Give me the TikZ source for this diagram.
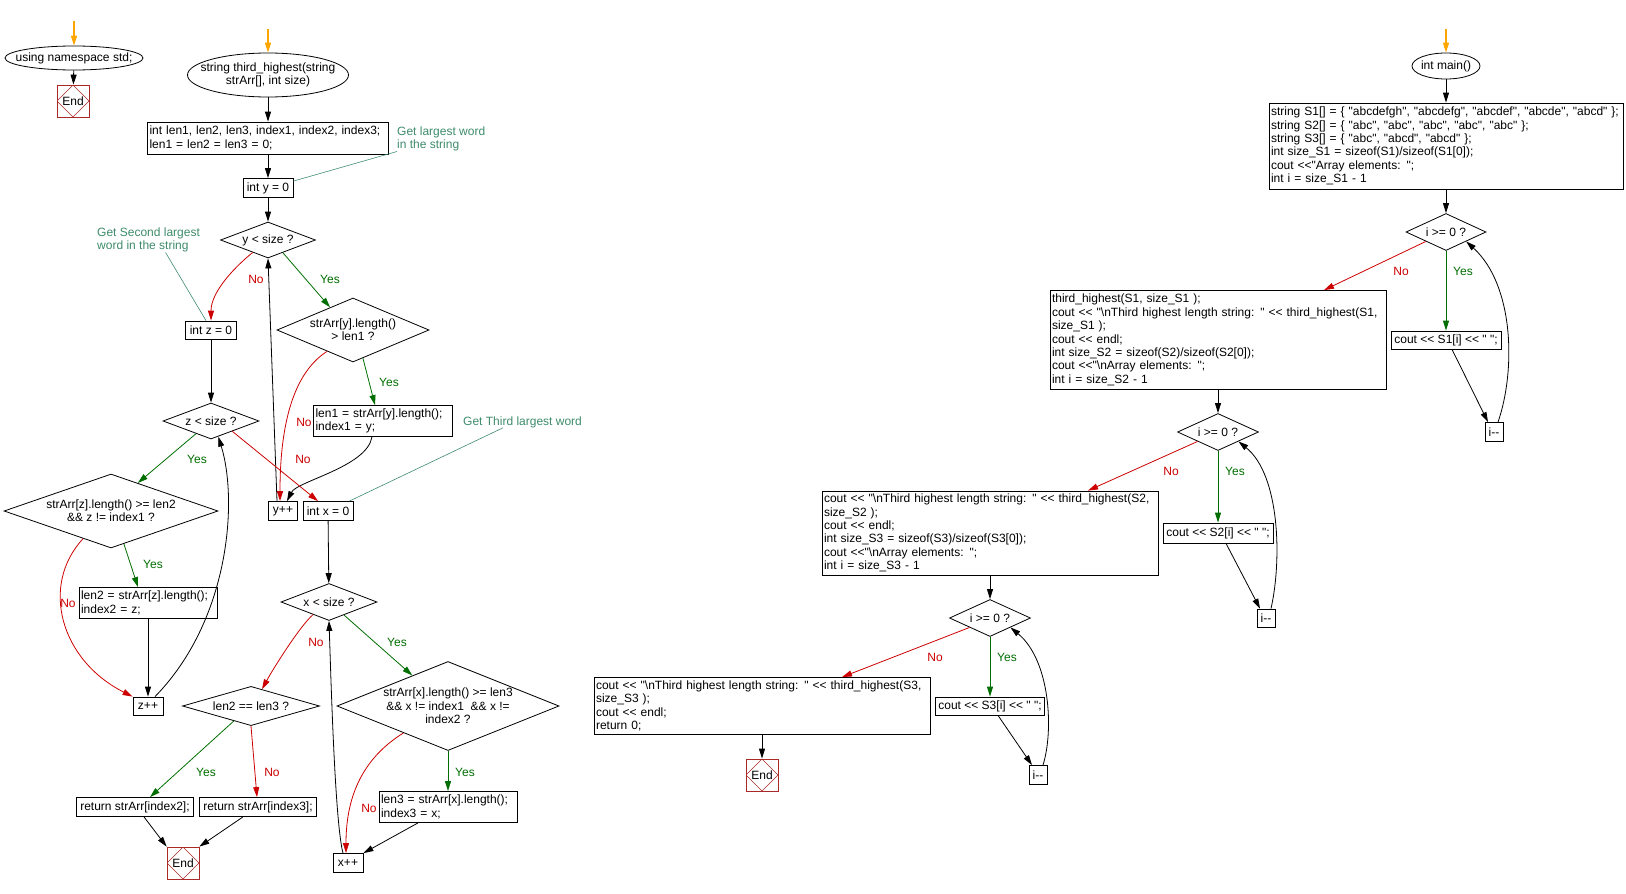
\documentclass[tikz,border=0pt]{standalone}
\usepackage{fontspec}
\newfontfamily\flowfont{Liberation Sans}
\usetikzlibrary{shapes.geometric,arrows.meta,calc}

\definecolor{nored}{RGB}{204,0,0}
\definecolor{yesgreen}{RGB}{0,110,0}
\definecolor{notegreen}{RGB}{61,139,107}
\definecolor{startorange}{RGB}{255,165,0}
\definecolor{endbrown}{RGB}{170,40,40}

\tikzset{
  proc/.style={draw,line width=0.8pt,inner sep=2pt,align=left},
  box/.style={draw,line width=0.8pt,inner sep=0pt,align=center},
  cond/.style={diamond,draw,line width=0.8pt,inner sep=0pt,align=center,shape aspect=2.5},
  term/.style={ellipse,draw,line width=0.8pt,inner xsep=-12pt,inner ysep=0pt,align=center},
  endbox/.style={draw=endbrown,line width=0.8pt,minimum width=32pt,minimum height=32pt,inner sep=0pt,
    path picture={\draw[endbrown,line width=0.6pt] (path picture bounding box.north)--(path picture bounding box.east)--(path picture bounding box.south)--(path picture bounding box.west)--cycle;}},
  flow/.style={->,line width=0.8pt},
  yes/.style={flow,yesgreen},
  no/.style={flow,nored},
  entry/.style={flow,startorange,line width=1.4pt},
  note/.style={notegreen,align=left,inner sep=0pt,anchor=west},
  notelink/.style={notegreen,line width=0.6pt},
  ylab/.style={yesgreen,inner sep=0pt},
  nlab/.style={nored,inner sep=0pt}
}

\begin{document}
\begin{tikzpicture}[x=1pt,y=-1pt,font=\flowfont\fontsize{12}{13.4}\selectfont,>={Triangle[length=10pt,width=6pt]}]
\useasboundingbox (0,0) rectangle (1626,894);

% using namespace
\coordinate (in1) at (74,21);
\node[term,minimum width=138pt,minimum height=24pt] (ns) at (74,58) {using namespace std;};
\node[endbox] (end1) at (73,101) {End};
\draw[entry] (in1) -- (ns);
\draw[flow] (ns) -- (end1);

% third_highest
\coordinate (in2) at (268,29);
\node[term,minimum width=161pt,minimum height=44pt] (fn) at (268,75) {string third\_highest(string\\strArr[], int size)};
\node[proc,text width=237pt,minimum height=32pt] (decl) at (268,138) {int len1, len2, len3, index1, index2, index3;\\len1 = len2 = len3 = 0;};
\node[box,minimum width=50pt,minimum height=19pt] (iy) at (268,188) {int y = 0};
\node[cond,minimum width=95pt,minimum height=36pt] (dy) at (268,240) {y < size ?};
\node[cond,minimum width=152pt,minimum height=64pt] (dly) at (353,330) {strArr[y].length()\\> len1 ?};
\node[proc,text width=135pt,minimum height=31pt] (len1) at (383,421) {len1 = strArr[y].length();\\index1 = y;};
\node[box,minimum width=29pt,minimum height=19pt] (yinc) at (283,511) {y++};
\node[box,minimum width=51pt,minimum height=18pt] (iz) at (211,330) {int z = 0};
\node[cond,minimum width=96pt,minimum height=36pt] (dz) at (211,421) {z < size ?};
\node[cond,minimum width=214pt,minimum height=64pt] (dlz) at (111,511) {strArr[z].length() >= len2\\\&\& z != index1 ?};
\node[proc,text width=134pt,minimum height=31pt] (len2) at (148,603) {len2 = strArr[z].length();\\index2 = z;};
\node[box,minimum width=30pt,minimum height=18pt] (zinc) at (148,706) {z++};
\node[box,minimum width=50pt,minimum height=19pt] (ix) at (328,511) {int x = 0};
\node[cond,minimum width=96pt,minimum height=37pt] (dx) at (329,602) {x < size ?};
\node[cond,minimum width=137pt,minimum height=38pt] (deq) at (251,706) {len2 == len3 ?};
\node[box,minimum width=117pt,minimum height=19pt] (ret2) at (135,807) {return strArr[index2];};
\node[box,minimum width=117pt,minimum height=19pt] (ret3) at (258,807) {return strArr[index3];};
\node[endbox] (end2) at (183,863) {End};
\node[cond,minimum width=222pt,minimum height=89pt] (dlx) at (448,706) {strArr[x].length() >= len3\\\&\& x != index1 \ \&\& x !=\\index2 ?};
\node[proc,text width=134pt,minimum height=31pt] (len3) at (448,807) {len3 = strArr[x].length();\\index3 = x;};
\node[box,minimum width=30pt,minimum height=19pt] (xinc) at (348,863) {x++};

\node[note] (c1) at (397,139) {Get largest word\\in the string};
\node[note] (c2) at (97,240) {Get Second largest\\word in the string};
\node[note] (c3) at (463,422) {Get Third largest word};

\draw[entry] (in2) -- (fn);
\draw[flow] (fn) -- (decl);
\draw[flow] (decl) -- (iy);
\draw[flow] (iy) -- (dy);
\draw[no] ($(dy.west)!0.68!(dy.south)$) .. controls +(-15,12) and +(0,-30) .. (iz.north);
\draw[yes] ($(dy.south)!0.31!(dy.east)$) -- ($(dly.west)!0.7!(dly.north)$);
\draw[yes] ($(dly.south)!0.13!(dly.east)$) -- ([xshift=-8pt]len1.north);
\draw[no] ($(dly.west)!0.66!(dly.south)$) .. controls (295,372) and (280,420) .. ([xshift=-3pt]yinc.north);
\draw[flow] ([xshift=-11pt]len1.south) .. controls +(-5,30) and +(10,-20) .. ([xshift=4pt]yinc.north);
\draw[flow] ([xshift=-6pt]yinc.north) -- (dy.south);
\draw[flow] (iz) -- (dz);
\draw[no] ($(dz.south)!0.44!(dz.east)$) -- ([xshift=-10pt]ix.north);
\draw[yes] ($(dz.west)!0.69!(dz.south)$) -- ($(dlz.north)!0.25!(dlz.east)$);
\draw[yes] ($(dlz.south)!0.12!(dlz.east)$) -- ([xshift=-10pt]len2.north);
\draw[no] ($(dlz.west)!0.74!(dlz.south)$) .. controls (40,585) and (60,660) .. (zinc.north west);
\draw[flow] (len2) -- (zinc);
\draw[flow] ([xshift=7pt]zinc.north) .. controls (230,620) and (238,500) .. ($(dz.south)!0.15!(dz.east)$);
\draw[flow] (ix) -- (dx);
\draw[no] ($(dx.west)!0.67!(dx.south)$) .. controls +(-12,10) and +(12,-22) .. ($(deq.north)!0.16!(deq.east)$);
\draw[yes] ($(dx.south)!0.31!(dx.east)$) -- ($(dlx.west)!0.68!(dlx.north)$);
\draw[no] (deq.south) -- ([xshift=-1pt]ret3.north);
\draw[yes] ($(deq.west)!0.75!(deq.south)$) -- ([xshift=15pt]ret2.north);
\draw[flow] ([xshift=9pt]ret2.south) -- (end2.north west);
\draw[flow] ([xshift=-15pt]ret3.south) -- (end2.north east);
\draw[yes] (dlx.south) -- (len3.north);
\draw[no] ($(dlx.west)!0.6!(dlx.south)$) .. controls (360,760) and (346,800) .. ([xshift=-2pt]xinc.north);
\draw[flow] ([xshift=-30pt]len3.south) -- (xinc.north east);
\draw[flow] ([xshift=-5pt]xinc.north) .. controls +(-8,-30) and +(2,60) .. (dx.south);

\draw[notelink] ([yshift=-3pt]iy.north east) -- (c1.south west);
\draw[notelink] ([xshift=17pt]c2.south) -- ([xshift=-5pt]iz.north);
\draw[notelink] ([xshift=-4pt]ix.north east) -- ([xshift=40pt]c3.south west);

\node[nlab] (n1) at (256,279) {No};
\node[ylab] (y1) at (330,279) {Yes};
\node[ylab] (y2) at (389,382) {Yes};
\node[nlab] (n2) at (304,422) {No};
\node[ylab] (y3) at (197,459) {Yes};
\node[nlab] (n3) at (303,459) {No};
\node[ylab] (y4) at (153,564) {Yes};
\node[nlab] (n4) at (68,603) {No};
\node[nlab] (n5) at (316,642) {No};
\node[ylab] (y5) at (397,642) {Yes};
\node[ylab] (y6) at (206,772) {Yes};
\node[nlab] (n6) at (272,772) {No};
\node[ylab] (y7) at (465,772) {Yes};
\node[nlab] (n7) at (369,808) {No};

% main
\coordinate (in3) at (1446,29);
\node[term,minimum width=68pt,minimum height=26pt] (mainf) at (1446,66) {int main()};
\node[proc,text width=350pt,minimum height=86pt] (mdecl) at (1446,146) {string S1[] = \{ "abcdefgh", "abcdefg", "abcdef", "abcde", "abcd" \};\\string S2[] = \{ "abc", "abc", "abc", "abc", "abc" \};\\string S3[] = \{ "abc", "abcd", "abcd" \};\\int size\_S1 = sizeof(S1)/sizeof(S1[0]);\\cout <<"Array elements: ";\\int i = size\_S1 - 1};
\node[cond,minimum width=80pt,minimum height=37pt] (ci1) at (1446,232) {i >= 0 ?};
\node[proc,text width=332pt,minimum height=99pt] (th1) at (1218,340) {third\_highest(S1, size\_S1 );\\cout << "\textbackslash nThird highest length string: " << third\_highest(S1,\\size\_S1 );\\cout << endl;\\int size\_S2 = sizeof(S2)/sizeof(S2[0]);\\cout <<"\textbackslash nArray elements: ";\\int i = size\_S2 - 1};
\node[box,minimum width=110pt,minimum height=18pt] (co1) at (1446,340) {cout << S1[i] << " ";};
\node[box,minimum width=18pt,minimum height=19pt] (dec1) at (1494,432) {i--};
\node[cond,minimum width=81pt,minimum height=37pt] (ci2) at (1218,432) {i >= 0 ?};
\node[box,minimum width=110pt,minimum height=20pt] (co2) at (1218,533) {cout << S2[i] << " ";};
\node[box,minimum width=18pt,minimum height=18pt] (dec2) at (1266,618) {i--};
\node[proc,text width=332pt,minimum height=84pt] (th2) at (990,533) {cout << "\textbackslash nThird highest length string: " << third\_highest(S2,\\size\_S2 );\\cout << endl;\\int size\_S3 = sizeof(S3)/sizeof(S3[0]);\\cout <<"\textbackslash nArray elements: ";\\int i = size\_S3 - 1};
\node[cond,minimum width=81pt,minimum height=37pt] (ci3) at (990,618) {i >= 0 ?};
\node[proc,text width=332pt,minimum height=57pt] (th3) at (762,706) {cout << "\textbackslash nThird highest length string: " << third\_highest(S3,\\size\_S3 );\\cout << endl;\\return 0;};
\node[box,minimum width=109pt,minimum height=18pt] (co3) at (990,706) {cout << S3[i] << " ";};
\node[box,minimum width=18pt,minimum height=19pt] (dec3) at (1038,775) {i--};
\node[endbox] (end3) at (762,775) {End};

\draw[entry] (in3) -- (mainf);
\draw[flow] (mainf) -- (mdecl);
\draw[flow] (mdecl) -- (ci1);
\draw[no] (ci1.south west) -- ([xshift=106pt]th1.north);
\draw[yes] (ci1) -- (co1);
\draw[flow] ([xshift=6pt]co1.south) -- ([xshift=-6pt]dec1.north);
\draw[flow] ([xshift=4pt]dec1.north) .. controls (1516,370) and (1514,285) .. (ci1.south east);
\draw[flow] (th1) -- (ci2);
\draw[no] (ci2.south west) -- ([xshift=98pt]th2.north);
\draw[yes] (ci2) -- (co2);
\draw[flow] ([xshift=8pt]co2.south) -- ([xshift=-6pt]dec2.north);
\draw[flow] ([xshift=5pt]dec2.north) .. controls (1282,560) and (1280,475) .. (ci2.south east);
\draw[flow] (th2) -- (ci3);
\draw[no] (ci3.south west) -- ([xshift=80pt]th3.north);
\draw[yes] (ci3) -- (co3);
\draw[flow] ([xshift=8pt]co3.south) -- ([xshift=-6pt]dec3.north);
\draw[flow] ([xshift=5pt]dec3.north) .. controls (1054,730) and (1050,660) .. (ci3.south east);
\draw[flow] (th3) -- (end3);

\node[nlab] (n8) at (1401,271) {No};
\node[ylab] (y8) at (1463,271) {Yes};
\node[nlab] (n9) at (1171,471) {No};
\node[ylab] (y9) at (1235,471) {Yes};
\node[nlab] (n10) at (935,657) {No};
\node[ylab] (y10) at (1007,657) {Yes};
\end{tikzpicture}
\end{document}
